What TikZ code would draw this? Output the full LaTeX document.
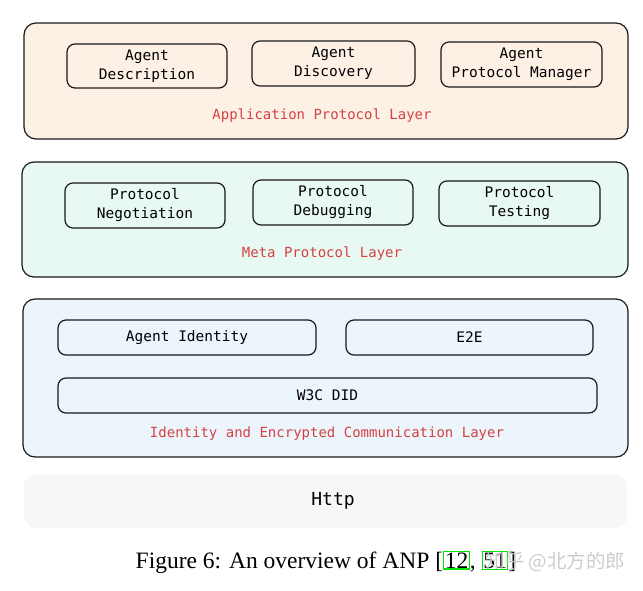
\documentclass[tikz,border=0pt]{standalone}
\usepackage{fontspec}
\setmainfont{Liberation Serif}
\setmonofont{DejaVu Sans Mono}
\newfontfamily\cjkfont{Noto Sans CJK SC}
\usetikzlibrary{positioning}
\definecolor{appfill}{RGB}{253,241,230}
\definecolor{metafill}{RGB}{232,248,242}
\definecolor{idfill}{RGB}{236,244,252}
\definecolor{httpfill}{RGB}{247,247,247}
\definecolor{labelred}{RGB}{212,66,66}
\definecolor{linkgreen}{RGB}{0,230,0}
\tikzset{
	layer_box/.style = {
		rectangle,
		rounded corners=12pt,
		draw=black!90,
		line width=1.2pt,
		inner sep=0pt
	},
	item_box/.style = {
		rectangle,
		rounded corners=8pt,
		draw=black!90,
		line width=1.2pt,
		align=center,
		inner sep=0pt,
		font=\ttfamily\fontsize{14.5}{19}\selectfont
	},
	layer_label/.style = {
		labelred,
		font=\ttfamily\fontsize{14}{17}\selectfont
	},
	cite_box/.style = {
		draw=linkgreen,
		line width=1.3pt,
		inner sep=1pt
	},
}

\begin{document}
\begin{tikzpicture}[x=1pt, y=-1pt]
\useasboundingbox (0,0) rectangle (643,590);
% application protocol layer
\node [layer_box, fill=appfill, minimum width=604pt, minimum height=116pt] (app) at (326,81) {};
\node [item_box, minimum width=160pt, minimum height=44pt] (desc) at (147,66) {Agent\\Description};
\node [item_box, minimum width=163pt, minimum height=45pt] (disc) at (333.5,63.5) {Agent\\Discovery};
\node [item_box, minimum width=161pt, minimum height=45pt] (manager) at (521.5,64.5) {Agent\\Protocol Manager};
\node [layer_label] (app_label) at (322,116) {Application Protocol Layer};
% meta protocol layer
\node [layer_box, fill=metafill, minimum width=606pt, minimum height=115pt] (meta) at (325,219.5) {};
\node [item_box, minimum width=160pt, minimum height=45pt] (negot) at (145,205.5) {Protocol\\Negotiation};
\node [item_box, minimum width=160pt, minimum height=45pt] (debug) at (333,202.5) {Protocol\\Debugging};
\node [item_box, minimum width=161pt, minimum height=45pt] (testing) at (519.5,203.5) {Protocol\\Testing};
\node [layer_label] (meta_label) at (322,254) {Meta Protocol Layer};
% identity and encrypted communication layer
\node [layer_box, fill=idfill, minimum width=605pt, minimum height=158pt] (ident) at (325.5,378) {};
\node [item_box, minimum width=258pt, minimum height=35pt] (agent_id) at (187,337.5) {Agent Identity};
\node [item_box, minimum width=247pt, minimum height=35pt] (e2e) at (469.5,337.5) {E2E};
\node [item_box, minimum width=539pt, minimum height=35pt] (did) at (327.5,395.5) {W3C DID};
\node [layer_label] (ident_label) at (327,434) {Identity and Encrypted Communication Layer};
% transport
\node [layer_box, draw=none, fill=httpfill, minimum width=603pt, minimum height=54pt] (http) at (325.5,501) {};
\node [font=\ttfamily\fontsize{18}{20}\selectfont] (http_text) at (333,501) {Http};
% caption
\node [font=\fontsize{23.5}{26}\selectfont, inner sep=0pt] (caption) at (326,562) {Figure 6: An overview of ANP [\tikz[baseline=(c1.base)]\node[cite_box] (c1) {12};, \tikz[baseline=(c2.base)]\node[cite_box] (c2) {51};]};
\node [black!22, font=\cjkfont\fontsize{19.5}{20}\selectfont, anchor=west, opacity=0.9] (mark) at (482,562) {知乎 @北方的郎};
\end{tikzpicture}
\end{document}
